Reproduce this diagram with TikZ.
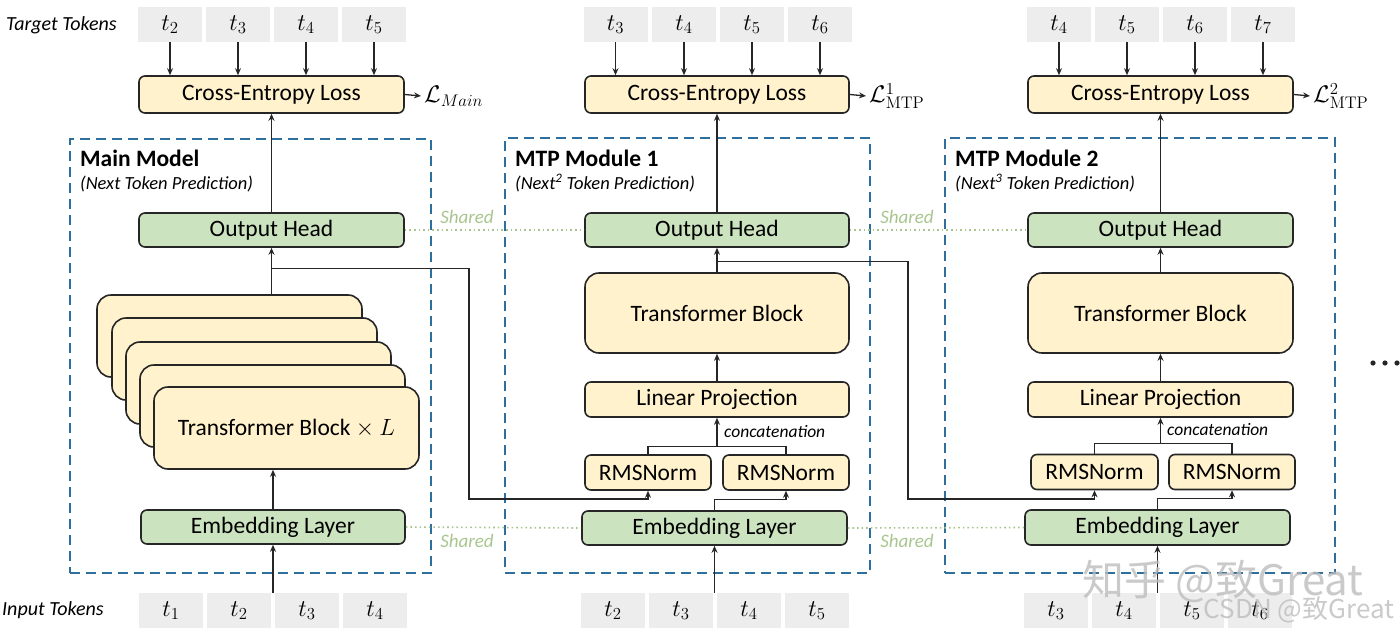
\RequirePackage{fix-cm}
\documentclass[tikz,border=0pt]{standalone}
\usepackage[no-math]{fontspec}
\setmainfont{Carlito}
\newfontfamily\cjkwm{Noto Sans CJK SC}
\usetikzlibrary{arrows.meta,calc}
\definecolor{edge}{HTML}{262626}
\definecolor{yel}{HTML}{FFF2CC}
\definecolor{grn}{HTML}{CCE3C0}
\definecolor{tokgray}{HTML}{EDEDED}
\definecolor{frameblue}{HTML}{2E6F9E}
\definecolor{sharedc}{HTML}{A9C58F}
\definecolor{wmgray}{HTML}{BDBDBD}
\newcommand\lblfont{\fontsize{23.5}{28}\selectfont}
\newcommand\subfont{\fontsize{18.5}{22}\selectfont\itshape}
\newcommand\sidefont{\fontsize{20}{24}\selectfont\itshape}
\newcommand\mathfs{\fontsize{24}{28}\selectfont}
\begin{document}
\begin{tikzpicture}[x=1pt,y=-1pt,
  arr/.style={-{Stealth[length=7pt,width=6pt]}, line width=1.3pt, draw=edge},
  ln/.style={line width=1.3pt, draw=edge},
  tok/.style={fill=tokgray, minimum width=64pt, minimum height=35pt, inner sep=0pt, font=\mathfs},
  ybox/.style={draw=edge, fill=yel, rounded corners=6pt, line width=1.6pt, inner sep=0pt, font=\lblfont},
  gbox/.style={draw=edge, fill=grn, rounded corners=6pt, line width=1.6pt, inner sep=0pt, font=\lblfont},
  bigbox/.style={draw=edge, fill=yel, rounded corners=14pt, line width=1.6pt, inner sep=0pt, font=\lblfont},
  frame/.style={draw=frameblue, line width=2.4pt, dash pattern=on 10pt off 6pt, inner sep=0pt},
  shared/.style={draw=sharedc, line width=1.6pt, dash pattern=on 1.6pt off 3pt},
  sharedlbl/.style={text=sharedc, font=\fontsize{19}{22}\selectfont\itshape, inner sep=0pt},
  title/.style={anchor=west, font=\lblfont\bfseries, inner sep=0pt},
  subt/.style={anchor=west, font=\subfont, inner sep=0pt},
  wm/.style={text=wmgray, opacity=0.8, inner sep=0pt}
]
\useasboundingbox (0,0) rectangle (1400,637);

% ---------------- frames ----------------
\node[frame, minimum width=361pt, minimum height=434pt] (frA) at (250.5,356) {};
\node[frame, minimum width=365pt, minimum height=435pt] (fr1) at (687.5,355.5) {};
\node[frame, minimum width=390pt, minimum height=435pt] (fr2) at (1140,355.5) {};

% ---------------- side labels ----------------
\node[anchor=west, font=\sidefont, inner sep=0pt] (tgtlbl) at (6,25) {Target Tokens};
\node[anchor=west, font=\sidefont, inner sep=0pt] (inlbl) at (2,610) {Input Tokens};

% ================= MAIN MODEL =================
\foreach \i/\x/\t in {1/170/2,2/238/3,3/306/4,4/374/5}
  \node[tok] (ta\i) at (\x,24.5) {$t_{\t}$};
\node[ybox, minimum width=265pt, minimum height=37pt] (lossA) at (271.5,94.5) {Cross-Entropy Loss};
\foreach \i in {1,...,4} \draw[arr] (ta\i.south) -- (ta\i.south |- lossA.north);
\node[anchor=west, font=\mathfs, inner sep=3pt] (LA) at (421,96) {$\mathcal{L}_{Main}$};
\draw[arr] (lossA.east) -- (LA.west);

\node[title] (tA) at (80,158) {Main Model};
\node[subt] (sA) at (80,184) {(Next Token Prediction)};

\node[gbox, minimum width=265pt, minimum height=34pt] (headA) at (271.5,230) {Output Head};
\draw[arr] (headA.north) -- (lossA.south);

\node[bigbox, minimum width=265pt, minimum height=82pt] (stk1) at (229.5,336) {};
\node[bigbox, minimum width=265pt, minimum height=82pt] (stk2) at (244.5,359) {};
\node[bigbox, minimum width=265pt, minimum height=82pt] (stk3) at (258.5,383) {};
\node[bigbox, minimum width=265pt, minimum height=82pt] (stk4) at (272.5,406) {};
\node[bigbox, minimum width=265pt, minimum height=82pt] (stk5) at (286.5,428) {Transformer Block $\times\ L$};
\draw[arr] (headA.south |- stk1.north) -- (headA.south);

\node[gbox, minimum width=264pt, minimum height=34pt] (embA) at (273,527) {Embedding Layer};
\draw[arr] (embA.north) -- (embA.north |- stk5.south);

\foreach \i/\x/\t in {1/171/1,2/239/2,3/307/3,4/375/4}
  \node[tok] (ba\i) at (\x,610.5) {$t_{\t}$};
\draw[arr] (embA.south |- ba1.north) -- (embA.south);

% ================= MTP MODULE 1 =================
\foreach \i/\x/\t in {1/615.5/3,2/684/4,3/752/5,4/820/6}
  \node[tok] (tb\i) at (\x,24.5) {$t_{\t}$};
\node[ybox, minimum width=264pt, minimum height=37pt] (loss1) at (717,94.5) {Cross-Entropy Loss};
\foreach \i in {1,...,4} \draw[arr] (tb\i.south) -- (tb\i.south |- loss1.north);
\node[anchor=west, font=\mathfs, inner sep=3pt] (L1) at (866,96) {$\mathcal{L}^{1}_{\mathrm{MTP}}$};
\draw[arr] (loss1.east) -- (L1.west);

\node[title] (t1) at (515,158) {MTP Module 1};
\node[subt] (s1) at (515,183) {(Next\textsuperscript{2} Token Prediction)};

\node[gbox, minimum width=264pt, minimum height=34pt] (head1) at (717,230) {Output Head};
\draw[arr] (head1.north) -- (loss1.south);
\node[bigbox, minimum width=264pt, minimum height=80pt] (tf1) at (717,313) {Transformer Block};
\draw[arr] (tf1.north) -- (head1.south);
\node[ybox, minimum width=264pt, minimum height=35pt] (lp1) at (717,399.5) {Linear Projection};
\draw[arr] (lp1.north) -- (tf1.south);
\node[ybox, minimum width=126pt, minimum height=35pt] (rm1a) at (648,472.5) {RMSNorm};
\node[ybox, minimum width=126pt, minimum height=35pt] (rm1b) at (786,472.5) {RMSNorm};
\path (lp1.south) ++(0,29) coordinate (j1);
\draw[ln] (rm1a.north) |- (j1) -| (rm1b.north);
\draw[arr] (j1) -- (lp1.south);
\node[anchor=west, font=\fontsize{17.5}{20}\selectfont\itshape, inner sep=0pt] (cc1) at (724,432) {concatenation};

\node[gbox, minimum width=265pt, minimum height=34pt] (emb1) at (714.5,528) {Embedding Layer};
\path (emb1.north) ++(0,-11) coordinate (e1);
\draw[arr] (emb1.north) -- (e1) -| (rm1b.south);

\foreach \i/\x/\t in {1/613/2,2/681/3,3/749/4,4/817/5}
  \node[tok] (bb\i) at (\x,610.5) {$t_{\t}$};
\draw[arr] (emb1.south |- bb1.north) -- (emb1.south);

% ================= MTP MODULE 2 =================
\foreach \i/\x/\t in {1/1059/4,2/1127/5,3/1195/6,4/1263/7}
  \node[tok] (tc\i) at (\x,24.5) {$t_{\t}$};
\node[ybox, minimum width=265pt, minimum height=37pt] (loss2) at (1160.5,94.5) {Cross-Entropy Loss};
\foreach \i in {1,...,4} \draw[arr] (tc\i.south) -- (tc\i.south |- loss2.north);
\node[anchor=west, font=\mathfs, inner sep=3pt] (L2) at (1310,96) {$\mathcal{L}^{2}_{\mathrm{MTP}}$};
\draw[arr] (loss2.east) -- (L2.west);

\node[title] (t2) at (955,158) {MTP Module 2};
\node[subt] (s2) at (955,183) {(Next\textsuperscript{3} Token Prediction)};

\node[gbox, minimum width=265pt, minimum height=34pt] (head2) at (1160.5,230) {Output Head};
\draw[arr] (head2.north) -- (loss2.south);
\node[bigbox, minimum width=265pt, minimum height=80pt] (tf2) at (1160.5,313) {Transformer Block};
\draw[arr] (tf2.north) -- (head2.south);
\node[ybox, minimum width=265pt, minimum height=35pt] (lp2) at (1160.5,399.5) {Linear Projection};
\draw[arr] (lp2.north) -- (tf2.south);
\node[ybox, minimum width=127pt, minimum height=35pt] (rm2a) at (1094.5,472) {RMSNorm};
\node[ybox, minimum width=126pt, minimum height=35pt] (rm2b) at (1232,472) {RMSNorm};
\path (lp2.south) ++(0,26) coordinate (j2);
\draw[ln] (rm2a.north) |- (j2) -| (rm2b.north);
\draw[arr] (j2) -- (lp2.south);
\node[anchor=west, font=\fontsize{17.5}{20}\selectfont\itshape, inner sep=0pt] (cc2) at (1167,430) {concatenation};

\node[gbox, minimum width=265pt, minimum height=35pt] (emb2) at (1157.5,527.5) {Embedding Layer};
\path (emb2.north) ++(0,-11) coordinate (e2);
\draw[arr] (emb2.north) -- (e2) -| (rm2b.south);

\foreach \i/\x/\t in {1/1056/3,2/1124/4,3/1192/5,4/1260/6}
  \node[tok] (bc\i) at (\x,610.5) {$t_{\t}$};
\draw[arr] (emb2.south |- bc1.north) -- (emb2.south);

% ================= cross-module connections =================
\path (headA.south) ++(0,21) coordinate (brA);
\coordinate (cA) at (469,499);
\draw[arr] (brA) -| (cA) -| (rm1a.south);
\path (head1.south) ++(0,14) coordinate (brB);
\coordinate (cB) at (908,499);
\draw[arr] (brB) -| (cB) -| (rm2a.south);

% shared weights
\draw[shared] (headA.east) -- (head1.west);
\draw[shared] (head1.east) -- (head2.west);
\draw[shared] (embA.east) -- (emb1.west);
\draw[shared] (emb1.east) -- (emb2.west);
\node[sharedlbl] (sh1) at (467,217) {Shared};
\node[sharedlbl] (sh2) at (907,217) {Shared};
\node[sharedlbl] (sh3) at (467,541) {Shared};
\node[sharedlbl] (sh4) at (907,541) {Shared};

% continuation dots
\foreach \x in {1373,1385,1397} \fill[edge] (\x,363) circle (2.6pt);

% watermarks
\node[wm, font=\cjkwm\fontsize{42}{46}\selectfont] (wm1) at (1223,581) {知乎 @致Great};
\node[wm, font=\cjkwm\fontsize{26}{30}\selectfont] (wm2) at (1299,610) {CSDN @致Great};
\end{tikzpicture}
\end{document}
